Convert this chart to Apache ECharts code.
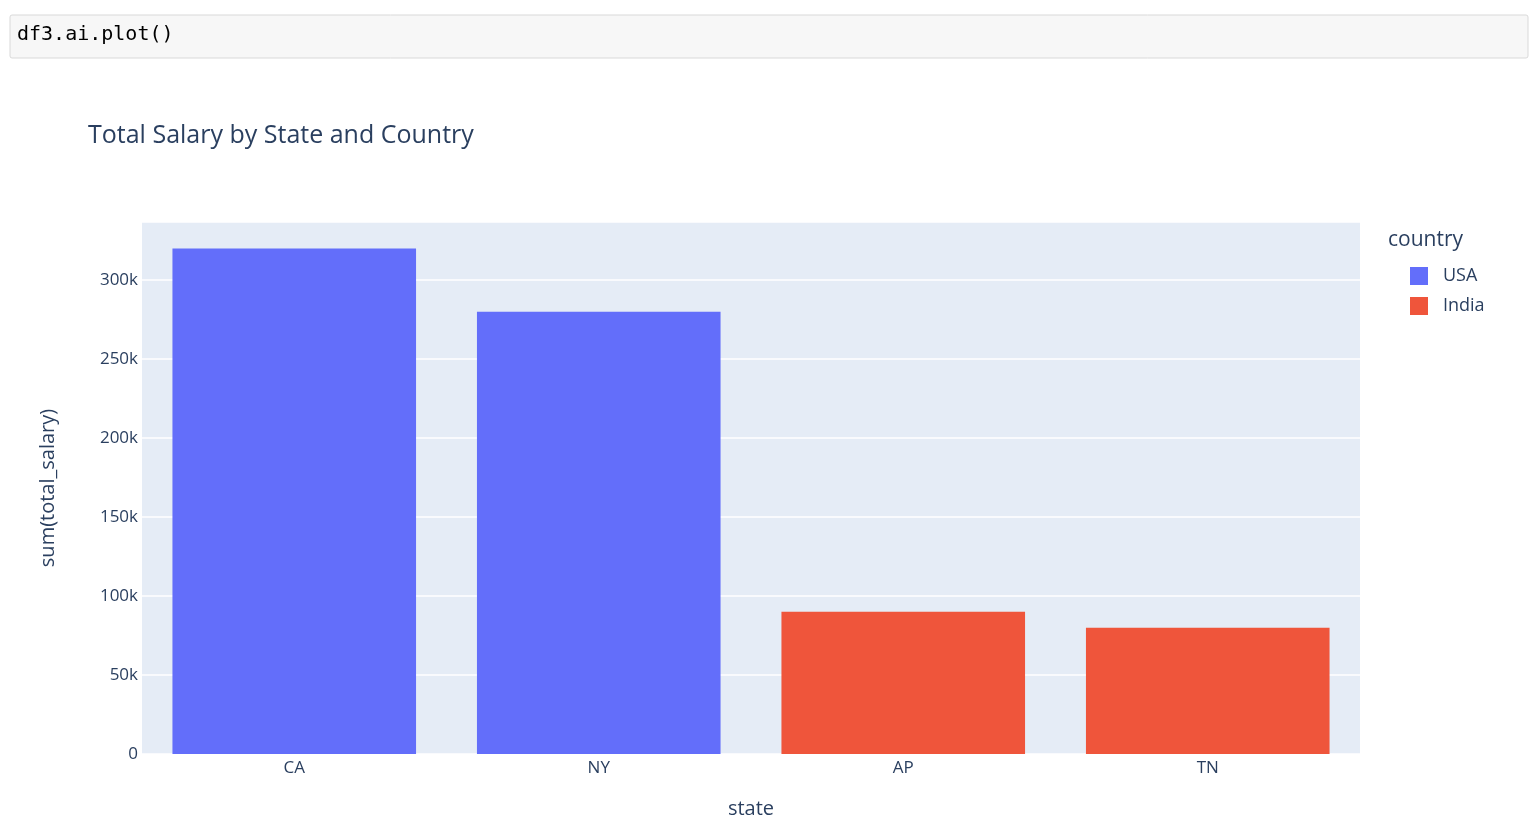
<!DOCTYPE html>
<html>
<head>
<meta charset="utf-8">
<script src="https://cdn.jsdelivr.net/npm/echarts@6/dist/echarts.min.js"></script>
<style>
  html, body { margin: 0; padding: 0; background: #fff; }
  #chart { width: 1536px; height: 832px; }
</style>
</head>
<body>
<div id="chart"></div>
<script>
// Datos
const states = ['CA', 'NY', 'AP', 'TN'];
const usaValues = [320000, 280000, '-', '-'];
const indiaValues = ['-', '-', 90000, 80000];

const chart = echarts.init(document.getElementById('chart'), null, { renderer: 'canvas' });

const font = '"Open Sans", "Noto Sans", sans-serif';

chart.setOption({
  animation: false,
  textStyle: { fontFamily: font },
  graphic: [
    {
      type: 'rect',
      shape: { x: 10, y: 15, width: 1518, height: 43, r: 2 },
      style: { fill: '#f7f7f7', stroke: '#d9d9d9', lineWidth: 1 }
    },
    {
      type: 'text',
      left: 17, top: 25,
      style: { text: 'df3.ai.plot()', font: '20px "DejaVu Sans Mono", monospace', fill: '#000' }
    }
  ],
  title: {
    text: 'Total Salary by State and Country',
    left: 83, top: 118,
    textStyle: { fontSize: 25, fontWeight: 'normal', color: '#2a3f5f', fontFamily: font }
  },
  legend: {
    orient: 'vertical',
    left: 1405, top: 262,
    itemWidth: 18, itemHeight: 18, itemGap: 12,
    icon: 'rect',
    textStyle: { fontSize: 18, color: '#2a3f5f', padding: [0, 0, 0, 10] },
    data: ['USA', 'India']
  },
  grid: {
    left: 142, right: 176, top: 222, bottom: 78,
    show: true, backgroundColor: '#e5ecf6', borderWidth: 0
  },
  xAxis: {
    type: 'category',
    data: states,
    name: 'state',
    nameLocation: 'middle',
    nameGap: 45,
    nameTextStyle: { fontSize: 20, color: '#2a3f5f' },
    axisLine: { show: false },
    axisTick: { show: false },
    axisLabel: { fontSize: 17, color: '#2a3f5f', margin: 6 }
  },
  yAxis: {
    type: 'value',
    min: 0, max: 336800, interval: 50000,
    name: 'sum(total_salary)',
    nameLocation: 'middle',
    nameGap: 84,
    nameTextStyle: { fontSize: 20, color: '#2a3f5f' },
    axisLine: { show: false },
    axisTick: { show: false },
    splitLine: { lineStyle: { color: '#ffffff', width: 1.5 } },
    axisLabel: {
      fontSize: 17, color: '#2a3f5f', margin: 4,
      formatter: v => v === 0 ? '0' : (v / 1000) + 'k',
      showMaxLabel: false
    }
  },
  series: [
    {
      name: 'USA', type: 'bar', stack: 'total',
      barCategoryGap: '20%',
      itemStyle: { color: '#636efa' },
      data: usaValues
    },
    {
      name: 'India', type: 'bar', stack: 'total',
      barCategoryGap: '20%',
      itemStyle: { color: '#ef553b' },
      data: indiaValues
    }
  ]
});

// Legend title
chart.setOption({
  graphic: [
    {
      type: 'rect',
      shape: { x: 10, y: 15, width: 1518, height: 43, r: 2 },
      style: { fill: '#f7f7f7', stroke: '#d9d9d9', lineWidth: 1 }
    },
    {
      type: 'text',
      left: 17, top: 25,
      style: { text: 'df3.ai.plot()', font: '20px "DejaVu Sans Mono", monospace', fill: '#000' }
    },
    {
      type: 'text',
      left: 1388, top: 230,
      style: { text: 'country', font: '21px "Open Sans", sans-serif', fill: '#2a3f5f' }
    }
  ]
}, { replaceMerge: ['graphic'] });
</script>
</body>
</html>
